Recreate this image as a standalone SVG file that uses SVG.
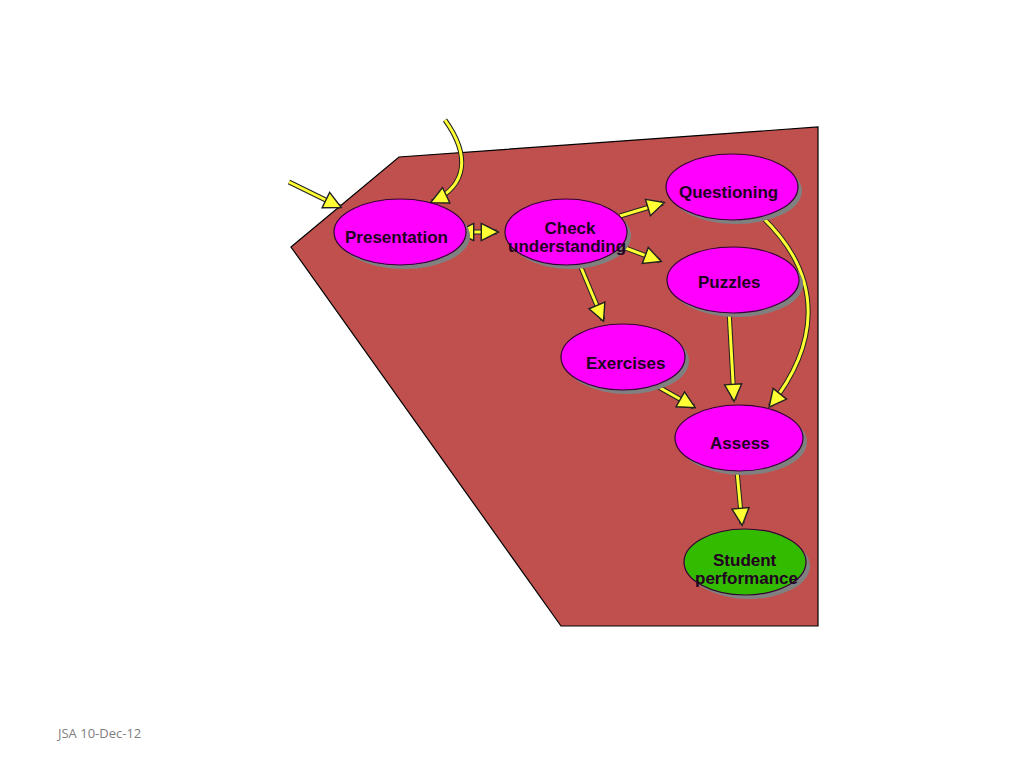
<svg xmlns="http://www.w3.org/2000/svg" width="1024" height="768" viewBox="0 0 1024 768">
<defs>
<style>
.sh{fill:#808080}
.n{fill:#ff00ff;stroke:#330033;stroke-width:1.2}
.g{fill:#33bb00;stroke:#330033;stroke-width:1.2}
.t{font-family:"Liberation Sans",Arial,sans-serif;font-weight:bold;font-size:17px;fill:#220022}
.o{fill:none;stroke:#222;stroke-width:5}
.y{fill:none;stroke:#ffff33;stroke-width:3}
</style>
<marker id="ah" markerUnits="userSpaceOnUse" markerWidth="20" markerHeight="20" refX="12" refY="7" orient="auto-start-reverse" viewBox="0 0 14 14">
<path d="M1,1 L13,7 L1,13 Z" fill="#ffff33" stroke="#222" stroke-width="1"/>
</marker>
</defs>
<rect width="1024" height="768" fill="#fff"/>
<polygon points="291,247 399,157 818,127 818,626 561,626" fill="#c0504d" stroke="#000" stroke-width="1.2"/>
<g id="connectors">
<g class="o">
<path d="M289,182 L340,207"/>
<path d="M445,120 C470,155 468,185 432,202"/>
<path d="M458,232 L497,232"/>
<path d="M620,216 L663,203"/>
<path d="M620,246 L660,261"/>
<path d="M580,265 L603,320"/>
<path d="M655,385 L694,407"/>
<path d="M729,310 L734,400"/>
<path d="M760,215 C830,280 815,350 770,406"/>
<path d="M737,471 L742,524"/>
</g>
<g class="y">
<path d="M289,182 L340,207" marker-end="url(#ah)"/>
<path d="M445,120 C470,155 468,185 432,202" marker-end="url(#ah)"/>
<path d="M458,232 L497,232" marker-start="url(#ah)" marker-end="url(#ah)"/>
<path d="M620,216 L663,203" marker-end="url(#ah)"/>
<path d="M620,246 L660,261" marker-end="url(#ah)"/>
<path d="M580,265 L603,320" marker-end="url(#ah)"/>
<path d="M655,385 L694,407" marker-end="url(#ah)"/>
<path d="M729,310 L734,400" marker-end="url(#ah)"/>
<path d="M760,215 C830,280 815,350 770,406" marker-end="url(#ah)"/>
<path d="M737,471 L742,524" marker-end="url(#ah)"/>
</g>
</g>
<g id="presentation"><ellipse class="sh" cx="404" cy="236" rx="66" ry="33"/><ellipse class="n" cx="400" cy="232" rx="66" ry="33"/><text class="t" x="345" y="243">Presentation</text></g>
<g id="check"><ellipse class="sh" cx="570" cy="236" rx="61" ry="33"/><ellipse class="n" cx="566" cy="232" rx="61" ry="33"/><text class="t" x="570" y="234" text-anchor="middle">Check</text><text class="t" x="508" y="252">understanding</text></g>
<g id="questioning"><ellipse class="sh" cx="736" cy="191" rx="66" ry="33"/><ellipse class="n" cx="732" cy="187" rx="66" ry="33"/><text class="t" x="679" y="198">Questioning</text></g>
<g id="puzzles"><ellipse class="sh" cx="737" cy="284" rx="66" ry="33"/><ellipse class="n" cx="733" cy="280" rx="66" ry="33"/><text class="t" x="698" y="288">Puzzles</text></g>
<g id="exercises"><ellipse class="sh" cx="627" cy="361" rx="62" ry="33"/><ellipse class="n" cx="623" cy="357" rx="62" ry="33"/><text class="t" x="586" y="369">Exercises</text></g>
<g id="assess"><ellipse class="sh" cx="743" cy="442" rx="64" ry="33"/><ellipse class="n" cx="739" cy="438" rx="64" ry="33"/><text class="t" x="710" y="449">Assess</text></g>
<g id="student"><ellipse class="sh" cx="749" cy="566" rx="61" ry="33"/><ellipse class="g" cx="745" cy="562" rx="61" ry="33"/><text class="t" x="713" y="566">Student</text><text class="t" x="695" y="584">performance</text></g>
<text x="58" y="738" font-family="'Open Sans',sans-serif" font-size="13" fill="#7f7f7f">JSA 10-Dec-12</text>
</svg>
